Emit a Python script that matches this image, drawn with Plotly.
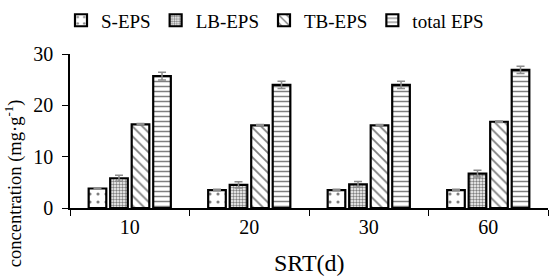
import plotly.graph_objects as go

categories = ["10", "20", "30", "60"]
series_names = ["S-EPS", "LB-EPS", "TB-EPS", "total EPS"]
s_eps = [3.8, 3.5, 3.5, 3.5]
lb_eps = [5.8, 4.5, 4.6, 6.7]
tb_eps = [16.3, 16.1, 16.1, 16.8]
total_eps = [25.7, 24.0, 24.0, 26.9]
s_err = [0.15, 0.15, 0.15, 0.15]
lb_err = [0.6, 0.6, 0.55, 0.65]
tb_err = [0.15, 0.15, 0.15, 0.15]
total_err = [0.75, 0.7, 0.7, 0.7]
x_title = "SRT(d)"
y_title = "concentration (mg·g<sup>-1</sup>)"

values = [s_eps, lb_eps, tb_eps, total_eps]
errors = [s_err, lb_err, tb_err, total_err]
patterns = [
    dict(shape=".", size=8, solidity=0.12),
    dict(shape=".", size=3, solidity=0.5),
    dict(shape="\\", size=7, solidity=0.25),
    dict(shape="-", size=5, solidity=0.3),
]

font_family = "Liberation Serif, Times New Roman, serif"
fig = go.Figure()
for name, vals, errs, pat in zip(series_names, values, errors, patterns):
    fig.add_trace(go.Bar(
        name=name, x=categories, y=vals,
        marker=dict(color="white", line=dict(color="black", width=2.2),
                    pattern=dict(fgcolor="black", bgcolor="white", **pat)),
        error_y=dict(type="data", array=errs, color="#8c8c8c", thickness=1.5, width=4),
    ))

fig.update_layout(
    width=550, height=278,
    margin=dict(l=70, r=2, t=54, b=70),
    paper_bgcolor="white", plot_bgcolor="white",
    barmode="group", bargap=0.28, bargroupgap=0.18,
    font=dict(family=font_family, color="black", size=20),
    legend=dict(orientation="h", x=0.5, xanchor="center", xref="container",
                y=0.995, yanchor="top", yref="container",
                font=dict(size=19, family=font_family), itemwidth=30,
                traceorder="normal"),
    xaxis=dict(showline=True, linecolor="black", linewidth=1.5,
               ticks="outside", tickson="boundaries", ticklen=6, tickcolor="black",
               tickfont=dict(size=20), automargin=False),
    yaxis=dict(range=[0, 30], dtick=10, showline=True, linecolor="black", linewidth=1.5,
               ticks="outside", ticklen=6, tickcolor="black", showgrid=False,
               zeroline=False, tickfont=dict(size=20), automargin=False,
               ticklabelstandoff=5),
    annotations=[
        dict(text=x_title, xref="paper", yref="paper", x=0.5, y=-0.36,
             xanchor="center", yanchor="middle", showarrow=False,
             font=dict(size=24, family=font_family)),
        dict(text=y_title, xref="paper", yref="paper", x=-(70 - 13) / 478, y=0.155,
             xanchor="center", yanchor="middle", showarrow=False, textangle=-90,
             font=dict(size=18.5, family=font_family)),
    ],
)

fig.write_html("out.html", config={"displayModeBar": False},
               post_script="document.body.style.margin='0';")
